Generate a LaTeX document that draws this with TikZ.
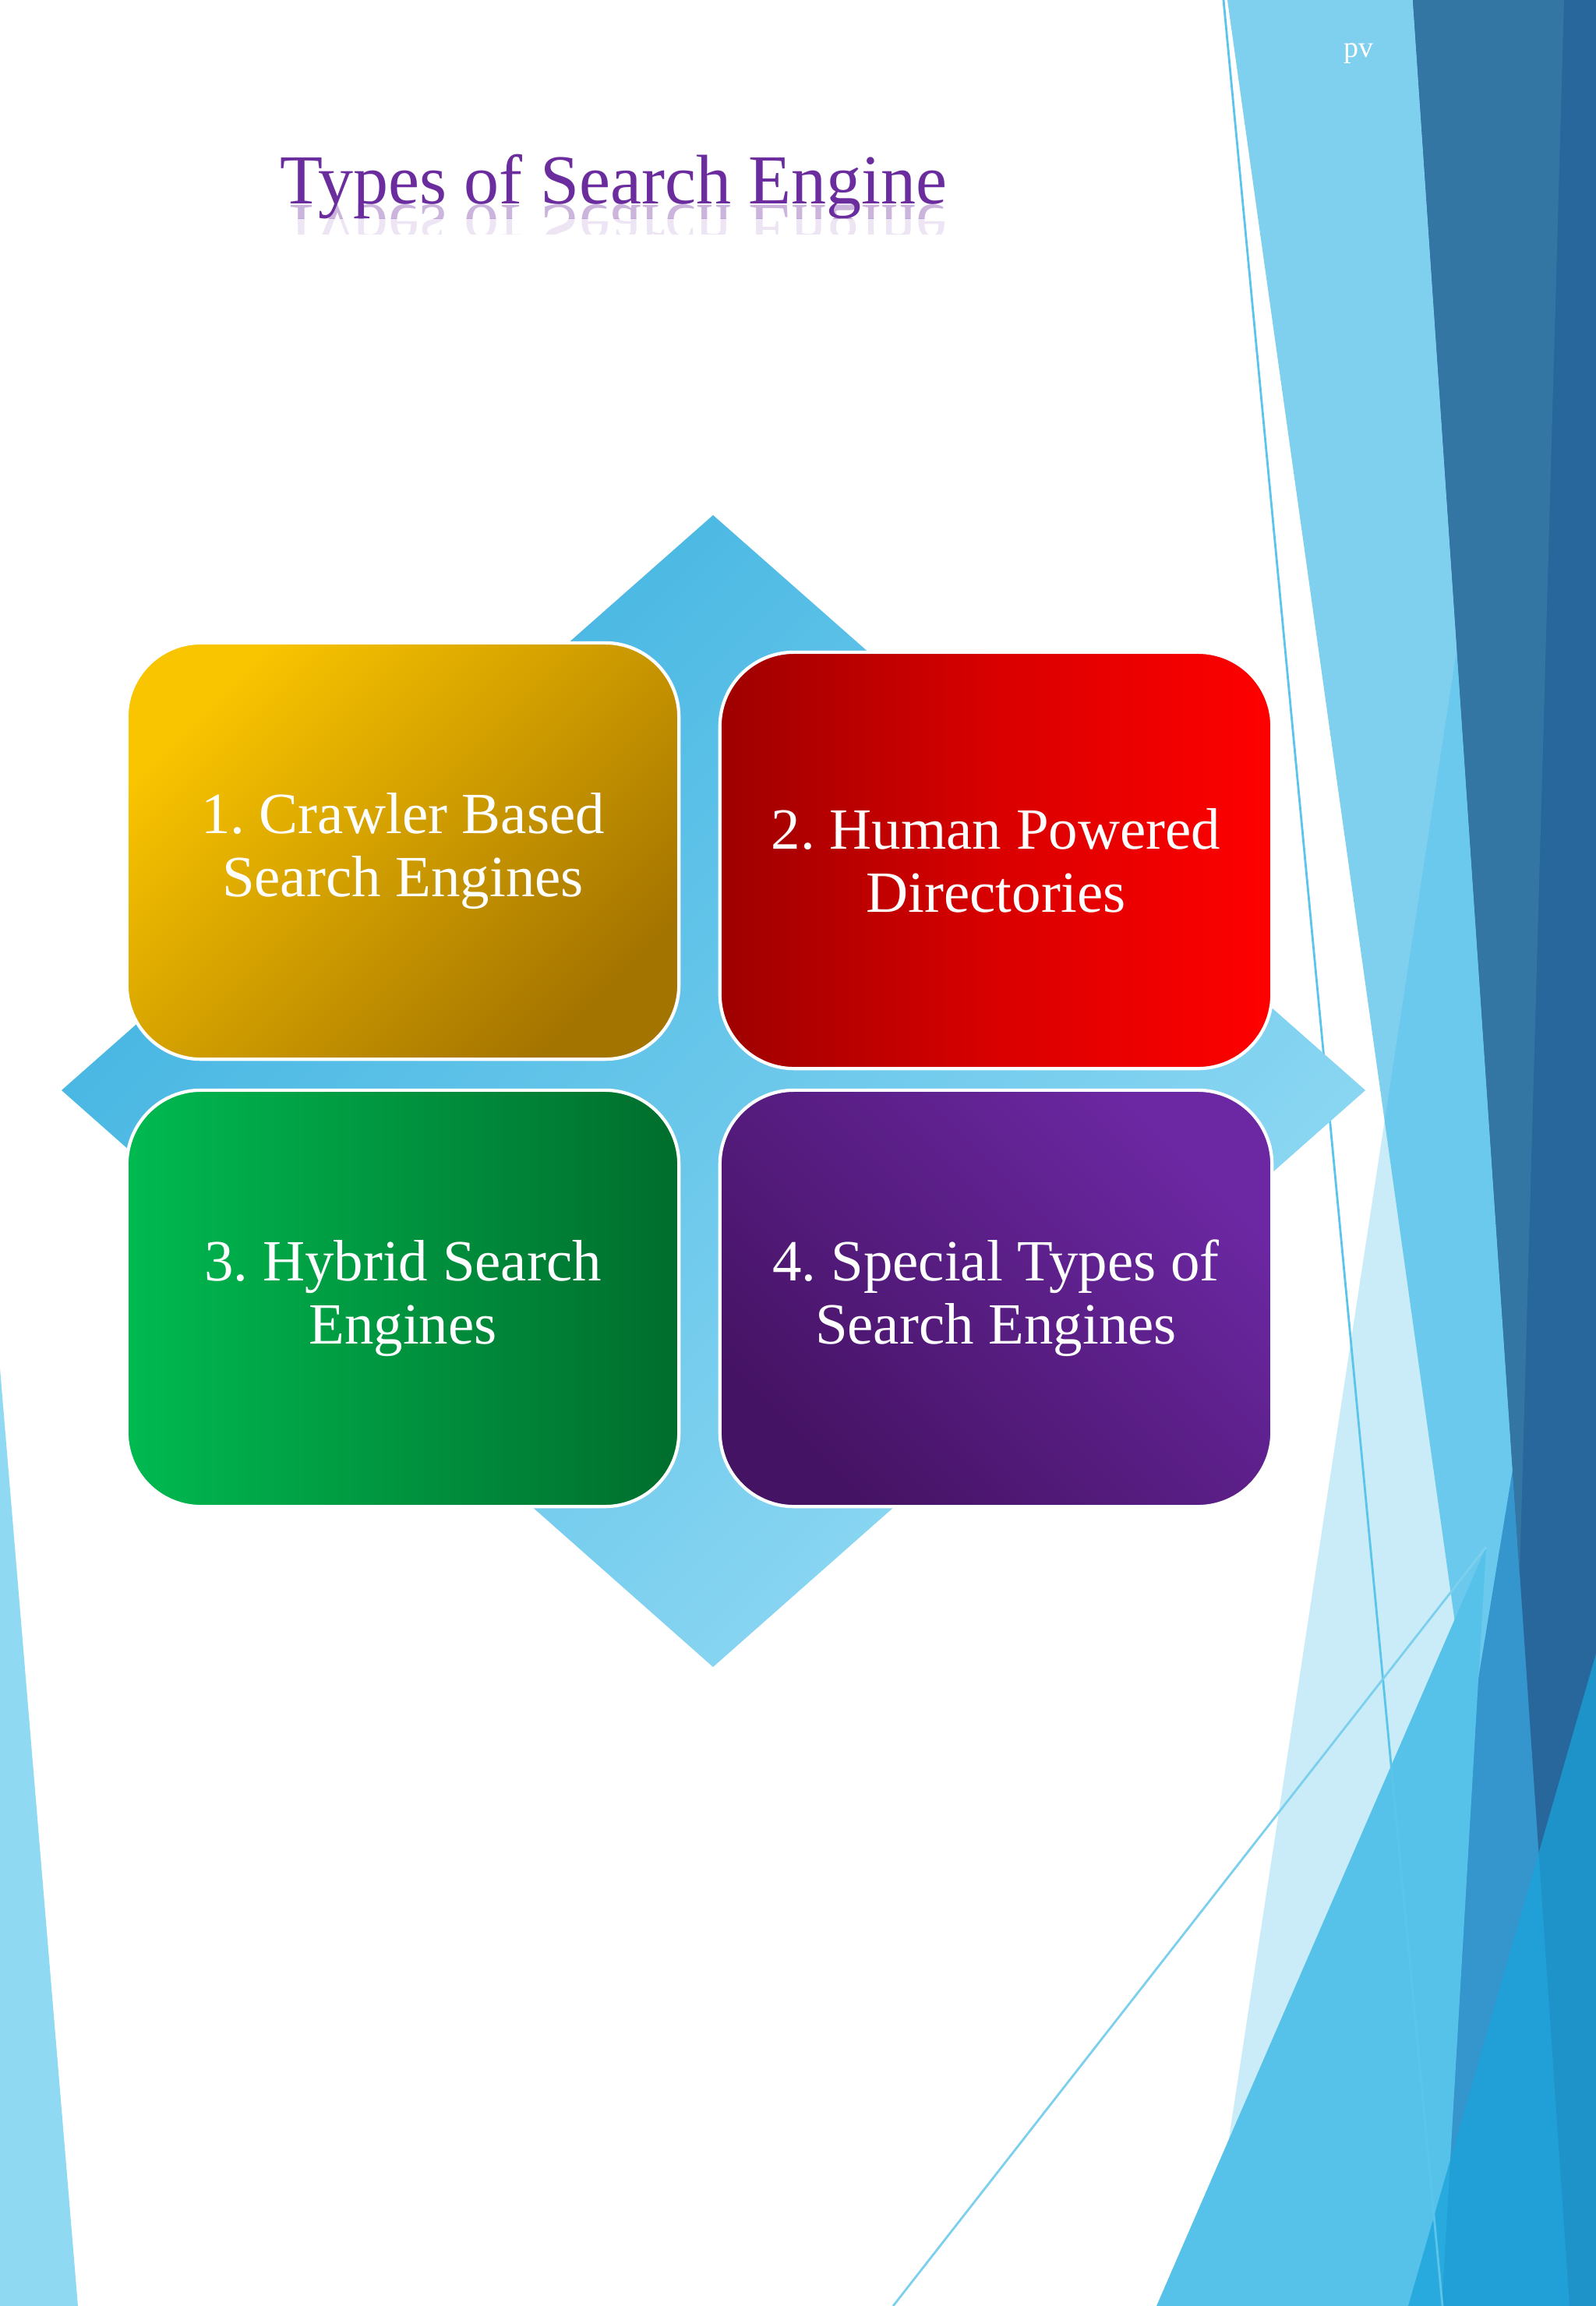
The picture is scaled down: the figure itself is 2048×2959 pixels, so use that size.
\documentclass[tikz,border=0pt]{standalone}
\usepackage{fontspec}
\setmainfont{Liberation Serif}
\frenchspacing

\definecolor{lpanel}{HTML}{8FD9F3}
\definecolor{band}{HTML}{7FD0EF}
\definecolor{glass}{HTML}{2DB5E4}
\definecolor{facetdark}{HTML}{27679B}
\definecolor{facetmid}{HTML}{3375A3}
\definecolor{steel}{HTML}{3595CD}
\definecolor{sky}{HTML}{56C2EA}
\definecolor{deep}{HTML}{1BA3DB}
\definecolor{hairline}{HTML}{5BC4EA}
\definecolor{hubtop}{HTML}{3FB3E1}
\definecolor{hubbot}{HTML}{94DBF4}
\definecolor{titlepurple}{HTML}{6B2D9E}
\definecolor{goldA}{HTML}{F9C400}
\definecolor{goldB}{HTML}{A47400}
\definecolor{redA}{HTML}{9E0000}
\definecolor{redB}{HTML}{FF0000}
\definecolor{greenA}{HTML}{00BA50}
\definecolor{greenB}{HTML}{006D2D}
\definecolor{purpA}{HTML}{6C28A3}
\definecolor{purpB}{HTML}{451364}

\begin{document}
\begin{tikzpicture}[x=0.01cm, y=-0.01cm,
  tile/.style={draw=white, line width=1.2pt, rounded corners=0.95cm,
    minimum width=7.08cm, minimum height=5.34cm, text=white, align=center,
    font=\fontsize{21.3}{23}\selectfont},
  heading/.style={anchor=base west, inner sep=0pt, text=titlepurple,
    font=\fontsize{25.6}{28}\selectfont}]

\useasboundingbox (0,0) rectangle (2048,2959);
\fill[white] (0,0) rectangle (2048,2959);

\fill[lpanel] (0,1756) -- (100,2959) -- (0,2959) -- cycle;
\fill[band] (1575,0) -- (2048,0) -- (2048,2959) -- (1990,2959) -- cycle;
\fill[glass, opacity=0.25] (1870,829) -- (1544,2959) -- (2048,2959) -- (2048,829) -- cycle;
\fill[steel] (1942,1880) -- (1765,2959) -- (2048,2959) -- (2048,1880) -- cycle;
\fill[facetdark] (1813,0) -- (2048,0) -- (2048,2959) -- (2014,2959) -- cycle;
\fill[facetmid] (1813,0) -- (2007,0) -- (1950,2021) -- cycle;
\fill[sky] (1907,1985) -- (1484,2959) -- (1850,2959) -- cycle;
\fill[deep, opacity=0.75] (2048,2122) -- (1807,2959) -- (2048,2959) -- cycle;
\draw[hairline, line width=0.8pt] (1570,0) -- (1851,2959);
\draw[hairline!80!white, line width=0.8pt] (1907,1985) -- (1146,2959);

\node[anchor=base west, inner sep=0pt, text=white, font=\fontsize{10.8}{12}\selectfont] (pv) at (1724,73) {pv};

\node[heading] (title) at (359,261) {Types of Search Engine};
\begin{scope}
\clip (300,262) rectangle (1300,280);
\node[heading, opacity=0.35] (titleref) at (359,263) {\scalebox{1}[-1]{Types of Search Engine}};
\end{scope}
\begin{scope}
\clip (300,280) rectangle (1300,300);
\node[heading, opacity=0.12] (titlefade) at (359,263) {\scalebox{1}[-1]{Types of Search Engine}};
\end{scope}

\shade[top color=hubtop, bottom color=hubbot, shading angle=45]
  (915,661) -- (1752,1399) -- (915,2139) -- (79,1399) -- cycle;

\node[tile, top color=goldA, bottom color=goldB, shading angle=45] (crawler) at (517,1092) {1. Crawler Based\\Search Engines};
\node[tile, left color=redA, right color=redB, middle color=red!85!black] (human) at (1278,1104) {2. Human Powered\\Directories};
\node[tile, left color=greenA, right color=greenB] (hybrid) at (517,1666) {3. Hybrid Search\\Engines};
\node[tile, top color=purpA, bottom color=purpB, shading angle=-45] (special) at (1278,1666) {4. Special Types of\\Search Engines};

\end{tikzpicture}
\end{document}
